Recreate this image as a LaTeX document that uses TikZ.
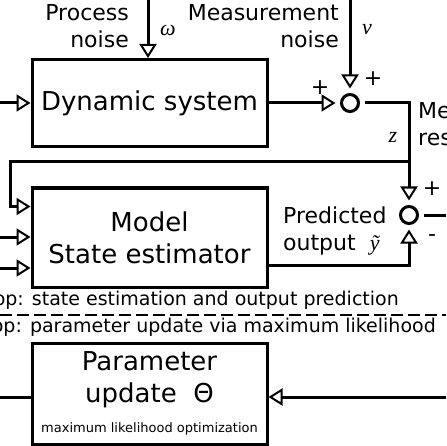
\documentclass[tikz,border=0pt]{standalone}
\usepackage{fontspec}
\setmainfont{DejaVu Sans}
\newfontfamily\symserif{Liberation Serif}
\usetikzlibrary{arrows.meta,calc}
\tikzset{
  block/.style={draw,line width=3pt,minimum width=235pt,inner sep=0pt,align=center,font=\fontsize{26}{32}\selectfont},
  sumnode/.style={draw,circle,line width=3pt,minimum size=17pt,inner sep=0pt,outer sep=6pt},
  conn/.style={line width=3pt},
  arr/.style={conn,-{Triangle[open,length=14pt,width=17pt,line width=2pt]}},
  lbl/.style={inner sep=0pt,font=\fontsize{22}{27}\selectfont},
  sym/.style={inner sep=0pt,font=\fontsize{22}{27}\selectfont\symserif\itshape},
}
\begin{document}
\begin{tikzpicture}[x=1pt,y=-1pt]
  \useasboundingbox (0,0) rectangle (446,446);
  \clip (0,0) rectangle (446,446);
  % blocks
  \node[block,minimum height=87pt] (dyn) at (149.5,103) {Dynamic system};
  \node[block,minimum height=99pt] (model) at (149.5,237.5) {Model\\State estimator};
  \node[block,minimum height=101pt] (param) at (149.5,393.5) {Parameter\\update\ \ Θ\\[-2pt]{\fontsize{13}{15}\selectfont maximum likelihood optimization}};
  \node[sumnode] (sum1) at (350,103) {};
  \node[sumnode] (sum2) at (409,215) {};
  % free ends
  \coordinate (pn) at (148,0);
  \coordinate (mn) at (350,0);
  \coordinate (u1) at (0,103);
  \coordinate (u2) at (0,237);
  \coordinate (u3) at (0,268);
  \coordinate (split) at (409,162);
  \coordinate (fbl) at (10,162);
  \coordinate (mout) at ($(model.south east)+(0,-23)$);
  \coordinate (yout) at (446,215);
  \coordinate (pin) at (446,397);
  \coordinate (pout) at (0,397);
  \coordinate (dl) at (0,315);
  \coordinate (dr) at (446,315);
  % connectors
  \draw[arr] (pn) -- (pn |- dyn.north);
  \draw[arr] (mn) -- (sum1.north);
  \draw[arr] (u1) -- (dyn.west);
  \draw[arr] (dyn.east) -- (sum1.west);
  \draw[arr] (sum1.east) -| (sum2.north);
  \draw[arr] (split) -- (fbl) |- ($(model.north west)+(0,20)$);
  \draw[arr] (u2) -- (u2 -| model.west);
  \draw[arr] (u3) -- (u3 -| model.west);
  \draw[arr] (mout) -| (sum2.south);
  \draw[conn] (sum2.east) -- (yout);
  \draw[arr] (pin) -- (pin -| param.east);
  \draw[conn] (param.west |- pout) -- (pout);
  \draw[conn,line width=2.5pt,dash pattern=on 12pt off 5pt] (dl) -- (dr);
  % labels
  \node[lbl,align=right,anchor=east] (pnlbl) at (129,26) {Process\\noise};
  \node[sym] (omega) at (168,30) {ω};
  \node[lbl,align=right,anchor=east] (mnlbl) at (339,26) {Measurement\\noise};
  \node[sym] (nu) at (367,30) {ν};
  \node[lbl] (p1) at (373,79) {+};
  \node[lbl] (p2) at (320,88) {+};
  \node[sym] (zlbl) at (393,137) {z};
  \node[lbl,align=left,anchor=west] (meas) at (418,124) {Me\\res};
  \node[lbl,align=left,anchor=west] (pred) at (283,231) {Predicted\\output\ \ {\symserif\itshape ỹ}};
  \node[lbl] (p3) at (432,189) {+};
  \node[lbl] (m1) at (432,238) {-};
  \node[lbl,font=\fontsize{19}{23}\selectfont,anchor=east] (inner) at (399,300) {op: state estimation and output prediction};
  \node[lbl,font=\fontsize{19}{23}\selectfont,anchor=east] (outer) at (436,327) {op: parameter update via maximum likelihood};
\end{tikzpicture}
\end{document}
